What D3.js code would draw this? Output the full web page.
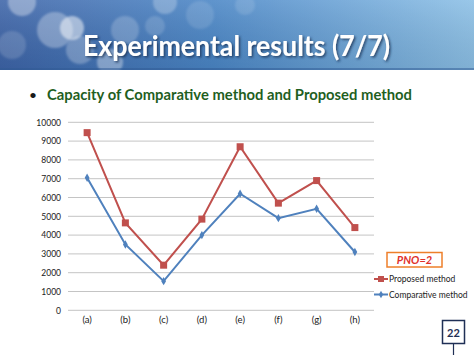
<!DOCTYPE html>
<html><head><meta charset="utf-8">
<script src="https://cdn.jsdelivr.net/npm/d3@7/dist/d3.min.js"></script>
<style>body{margin:0;background:#fff;}svg{display:block;}</style>
</head><body>
<script>
const categories = ["(a)","(b)","(c)","(d)","(e)","(f)","(g)","(h)"];
const proposed = [9450, 4650, 2400, 4850, 8700, 5700, 6900, 4400];
const comparative = [7050, 3500, 1550, 4000, 6200, 4900, 5400, 3100];
const yTicks = [0,1000,2000,3000,4000,5000,6000,7000,8000,9000,10000];
const seriesNames = ["Proposed method","Comparative method"];

const W = 474, H = 355;
const svg = d3.select("body").append("svg").attr("width", W).attr("height", H);
const defs = svg.append("defs");

// banner gradient
const g1 = defs.append("linearGradient").attr("id","ban").attr("x1","0").attr("x2","1").attr("y1","0").attr("y2","0");
g1.append("stop").attr("offset","0").attr("stop-color","#3d64a8");
g1.append("stop").attr("offset","0.45").attr("stop-color","#4a86c6");
g1.append("stop").attr("offset","1").attr("stop-color","#8cc0e6");
const g2 = defs.append("linearGradient").attr("id","fade").attr("x1","0").attr("x2","0").attr("y1","0").attr("y2","1");
g2.append("stop").attr("offset","0").attr("stop-color","#ffffff").attr("stop-opacity","0.12");
g2.append("stop").attr("offset","1").attr("stop-color","#000000").attr("stop-opacity","0.08");
const blur = defs.append("filter").attr("id","bl").attr("x","-20%").attr("y","-20%").attr("width","140%").attr("height","140%");
blur.append("feGaussianBlur").attr("stdDeviation","1.2");
const sh = defs.append("filter").attr("id","sh").attr("x","-10%").attr("y","-30%").attr("width","120%").attr("height","160%");
sh.append("feDropShadow").attr("dx","1.5").attr("dy","1.5").attr("stdDeviation","1").attr("flood-color","#1a2f55").attr("flood-opacity","0.8");

svg.append("rect").attr("x",0).attr("y",0).attr("width",W).attr("height",70).attr("fill","url(#ban)");
svg.append("rect").attr("x",0).attr("y",0).attr("width",W).attr("height",70).attr("fill","url(#fade)");
// bokeh circles (decorative)
const bokeh = [[22,2,14,0.35],[55,30,18,0.3],[72,28,12,0.5],[12,45,14,0.15],[80,50,14,0.25],[125,30,14,0.2],[110,62,13,0.35],[165,2,12,0.25],[155,26,10,0.15],[200,15,14,0.12],[245,5,10,0.12]];
const bg = svg.append("g").attr("filter","url(#bl)");
bokeh.forEach(b=>bg.append("circle").attr("cx",b[0]).attr("cy",b[1]).attr("r",b[2]).attr("fill","#ffffff").attr("fill-opacity",b[3]));
svg.append("rect").attr("x",0).attr("y",68).attr("width",W).attr("height",2).attr("fill","#2f5a94").attr("opacity",0.5);

svg.append("text").attr("x",83).attr("y",56).attr("font-family","Lato, 'Open Sans', sans-serif")
  .attr("font-weight","bold").attr("font-size",28).attr("fill","#ffffff")
  .attr("textLength",307).attr("lengthAdjust","spacingAndGlyphs")
  .attr("filter","url(#sh)").text("Experimental results (7/7)");

// subtitle
svg.append("text").attr("x",29.5).attr("y",99).attr("font-family","Lato, sans-serif").attr("font-weight","bold")
  .attr("font-size",12).attr("fill","#1a1a1a").text("•");
svg.append("text").attr("x",47).attr("y",100).attr("font-family","Lato, sans-serif").attr("font-weight","bold")
  .attr("font-size",15).attr("fill","#1f5f1f").attr("textLength",365).attr("lengthAdjust","spacingAndGlyphs")
  .text("Capacity of Comparative method and Proposed method");

// chart
const x0 = 68, x1 = 374, yTop = 122.3, yBot = 310.3;
const x = d3.scaleBand().domain(categories).range([x0,x1]);
const y = d3.scaleLinear().domain([0,10000]).range([yBot,yTop]);
const font = "Lato, 'Open Sans', sans-serif";

const grid = svg.append("g");
grid.selectAll("line").data(yTicks).join("line")
  .attr("x1",x0).attr("x2",x1).attr("y1",d=>y(d)).attr("y2",d=>y(d))
  .attr("stroke","#c4c4c4").attr("stroke-width",1);

const yAxis = svg.append("g").attr("transform",`translate(${x0},0)`)
  .call(d3.axisLeft(y).tickValues(yTicks).tickSize(0).tickPadding(7).tickFormat(d3.format("d")));
yAxis.select(".domain").remove();
yAxis.selectAll("text").attr("font-family",font).attr("font-size",8.5).attr("fill","#222");

const xAxis = svg.append("g").attr("transform",`translate(0,${yBot})`)
  .call(d3.axisBottom(x).tickSize(0).tickPadding(6));
xAxis.select(".domain").remove();
xAxis.selectAll("text").attr("font-family",font).attr("font-size",9.5).attr("fill","#222");

const cx = d => x(d) + x.bandwidth()/2;
const line = d3.line().x((d,i)=>cx(categories[i])).y(d=>y(d));

svg.append("path").datum(comparative).attr("d",line).attr("fill","none").attr("stroke","#4f81bd").attr("stroke-width",2);
svg.append("path").datum(proposed).attr("d",line).attr("fill","none").attr("stroke","#c0504d").attr("stroke-width",2);

svg.append("g").selectAll("rect").data(proposed).join("rect")
  .attr("x",(d,i)=>cx(categories[i])-3.5).attr("y",d=>y(d)-3.5).attr("width",7).attr("height",7)
  .attr("fill","#c0504d");
svg.append("g").selectAll("path").data(comparative).join("path")
  .attr("d",d3.symbol().type(d3.symbolDiamond).size(20))
  .attr("transform",(d,i)=>`translate(${cx(categories[i])},${y(d)})`).attr("fill","#4f81bd");

// PNO box
svg.append("rect").attr("x",387).attr("y",252.5).attr("width",55).attr("height",14.5)
  .attr("fill","#fff").attr("stroke","#ee7f2a").attr("stroke-width",1.5);
svg.append("text").attr("x",414.5).attr("y",263.5).attr("text-anchor","middle").attr("font-family",font)
  .attr("font-weight","bold").attr("font-style","italic").attr("font-size",11).attr("fill","#e0302a").text("PNO=2");

// legend
const leg = svg.append("g");
const legItems = [{name:seriesNames[0], color:"#c0504d", y:279, sq:true},{name:seriesNames[1], color:"#4f81bd", y:294.5, sq:false}];
legItems.forEach(it=>{
  leg.append("line").attr("x1",374).attr("x2",388).attr("y1",it.y).attr("y2",it.y).attr("stroke",it.color).attr("stroke-width",2);
  if (it.sq) leg.append("rect").attr("x",378).attr("y",it.y-3).attr("width",6).attr("height",6).attr("fill",it.color);
  else leg.append("path").attr("d",d3.symbol().type(d3.symbolDiamond).size(16)).attr("transform",`translate(381,${it.y})`).attr("fill",it.color);
  leg.append("text").attr("x",389).attr("y",it.y+3).attr("font-family",font).attr("font-size",8.5).attr("fill","#222").text(it.name);
});

// page number
svg.append("rect").attr("x",442.5).attr("y",320.5).attr("width",22).attr("height",23).attr("fill","#fff").attr("stroke","#1f2f55").attr("stroke-width",1.5);
svg.append("line").attr("x1",453.5).attr("x2",453.5).attr("y1",344).attr("y2",355).attr("stroke","#1f2f55").attr("stroke-width",1.2);
svg.append("text").attr("x",453.5).attr("y",336.5).attr("text-anchor","middle").attr("font-family",font).attr("font-weight","bold").attr("font-size",11).attr("fill","#1f2f55").text("22");
</script>
</body></html>
